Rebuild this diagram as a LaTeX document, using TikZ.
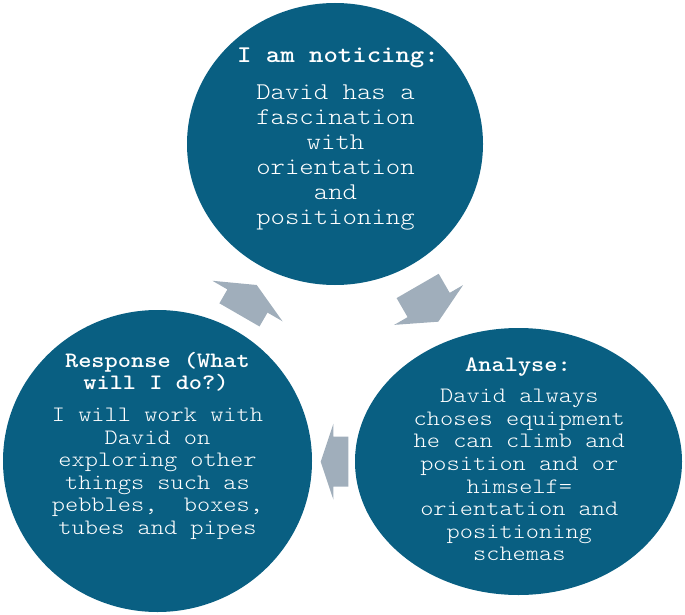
\documentclass[tikz,border=0pt]{standalone}
\usepackage{fontspec}
\newfontfamily\cour[FakeStretch=1.143, BoldFont=lmmonolt10-bold.otf]{lmmonolt10-regular.otf}
\usetikzlibrary{shapes.geometric}
\definecolor{circ}{RGB}{9,95,130}
\definecolor{arr}{RGB}{160,174,187}
\tikzset{
  bubble/.style={ellipse, fill=circ, draw=none, inner sep=0pt},
  bigtitle/.style={anchor=base, inner sep=0pt, text=white, font=\cour\bfseries\fontsize{24}{25}\selectfont},
  bigbody/.style={anchor=base, inner sep=0pt, text=white, font=\cour\fontsize{24}{25}\selectfont},
  smalltitle/.style={anchor=base, inner sep=0pt, text=white, font=\cour\bfseries\fontsize{22}{23}\selectfont},
  smallbody/.style={anchor=base, inner sep=0pt, text=white, font=\cour\fontsize{22}{23}\selectfont},
}
% tip x, tip y, angle, head length, head width, body width, body length
\newcommand{\cyclearrow}[7]{%
  \fill[arr, shift={(#1,#2)}, rotate=#3]
    (0,0) -- (-#4,#5/2) -- (-#4,#6/2) -- (-#4-#7,#6/2) -- (-#4-#7,-#6/2)
    -- (-#4,-#6/2) -- (-#4,-#5/2) -- cycle;}
\begin{document}
\begin{tikzpicture}[x=1pt,y=-1pt]
\useasboundingbox (0,0) rectangle (685,615);

% circles
\node[bubble, minimum width=296pt, minimum height=282pt] (notice) at (335,144) {};
\node[bubble, minimum width=309pt, minimum height=302pt] (respond) at (157.5,461) {};
\node[bubble, minimum width=327pt, minimum height=267pt] (analyse) at (518.5,461.5) {};

% arrows
\cyclearrow{256.7}{285}{60}{18.5}{81}{46.3}{16}
\cyclearrow{438.3}{321.7}{-60}{19.3}{79.5}{48.6}{22}
\cyclearrow{320.7}{461.7}{180}{12.7}{76}{50}{15}

% top text
\node[bigtitle] (notice-title) at (338,63) {I am noticing:};
\foreach \l [count=\i from 0] in {David has a, fascination, with, orientation, and, positioning}
  \node[bigbody] (notice-\i) at (335.5,100+24.8*\i) {\l};

% left text
\node[smalltitle] (respond-t1) at (157.5,367.7) {Response (What};
\node[smalltitle] (respond-t2) at (156,389.3) {will I do?)};
\foreach \l [count=\i from 0] in {I will work with, David on, exploring other, things such as, {pebbles,\ \ boxes,}, tubes and pipes}
  \node[smallbody] (respond-\i) at (157.5,421.7+22.5*\i) {\l};

% right text
\node[smalltitle] (analyse-title) at (518,371) {Analyse:};
\foreach \l [count=\i from 0] in {David always, choses equipment, he can climb and, position and or, himself=, orientation and, positioning, schemas}
  \node[smallbody] (analyse-\i) at (519.3,402.7+22.6*\i) {\l};
\end{tikzpicture}
\end{document}
